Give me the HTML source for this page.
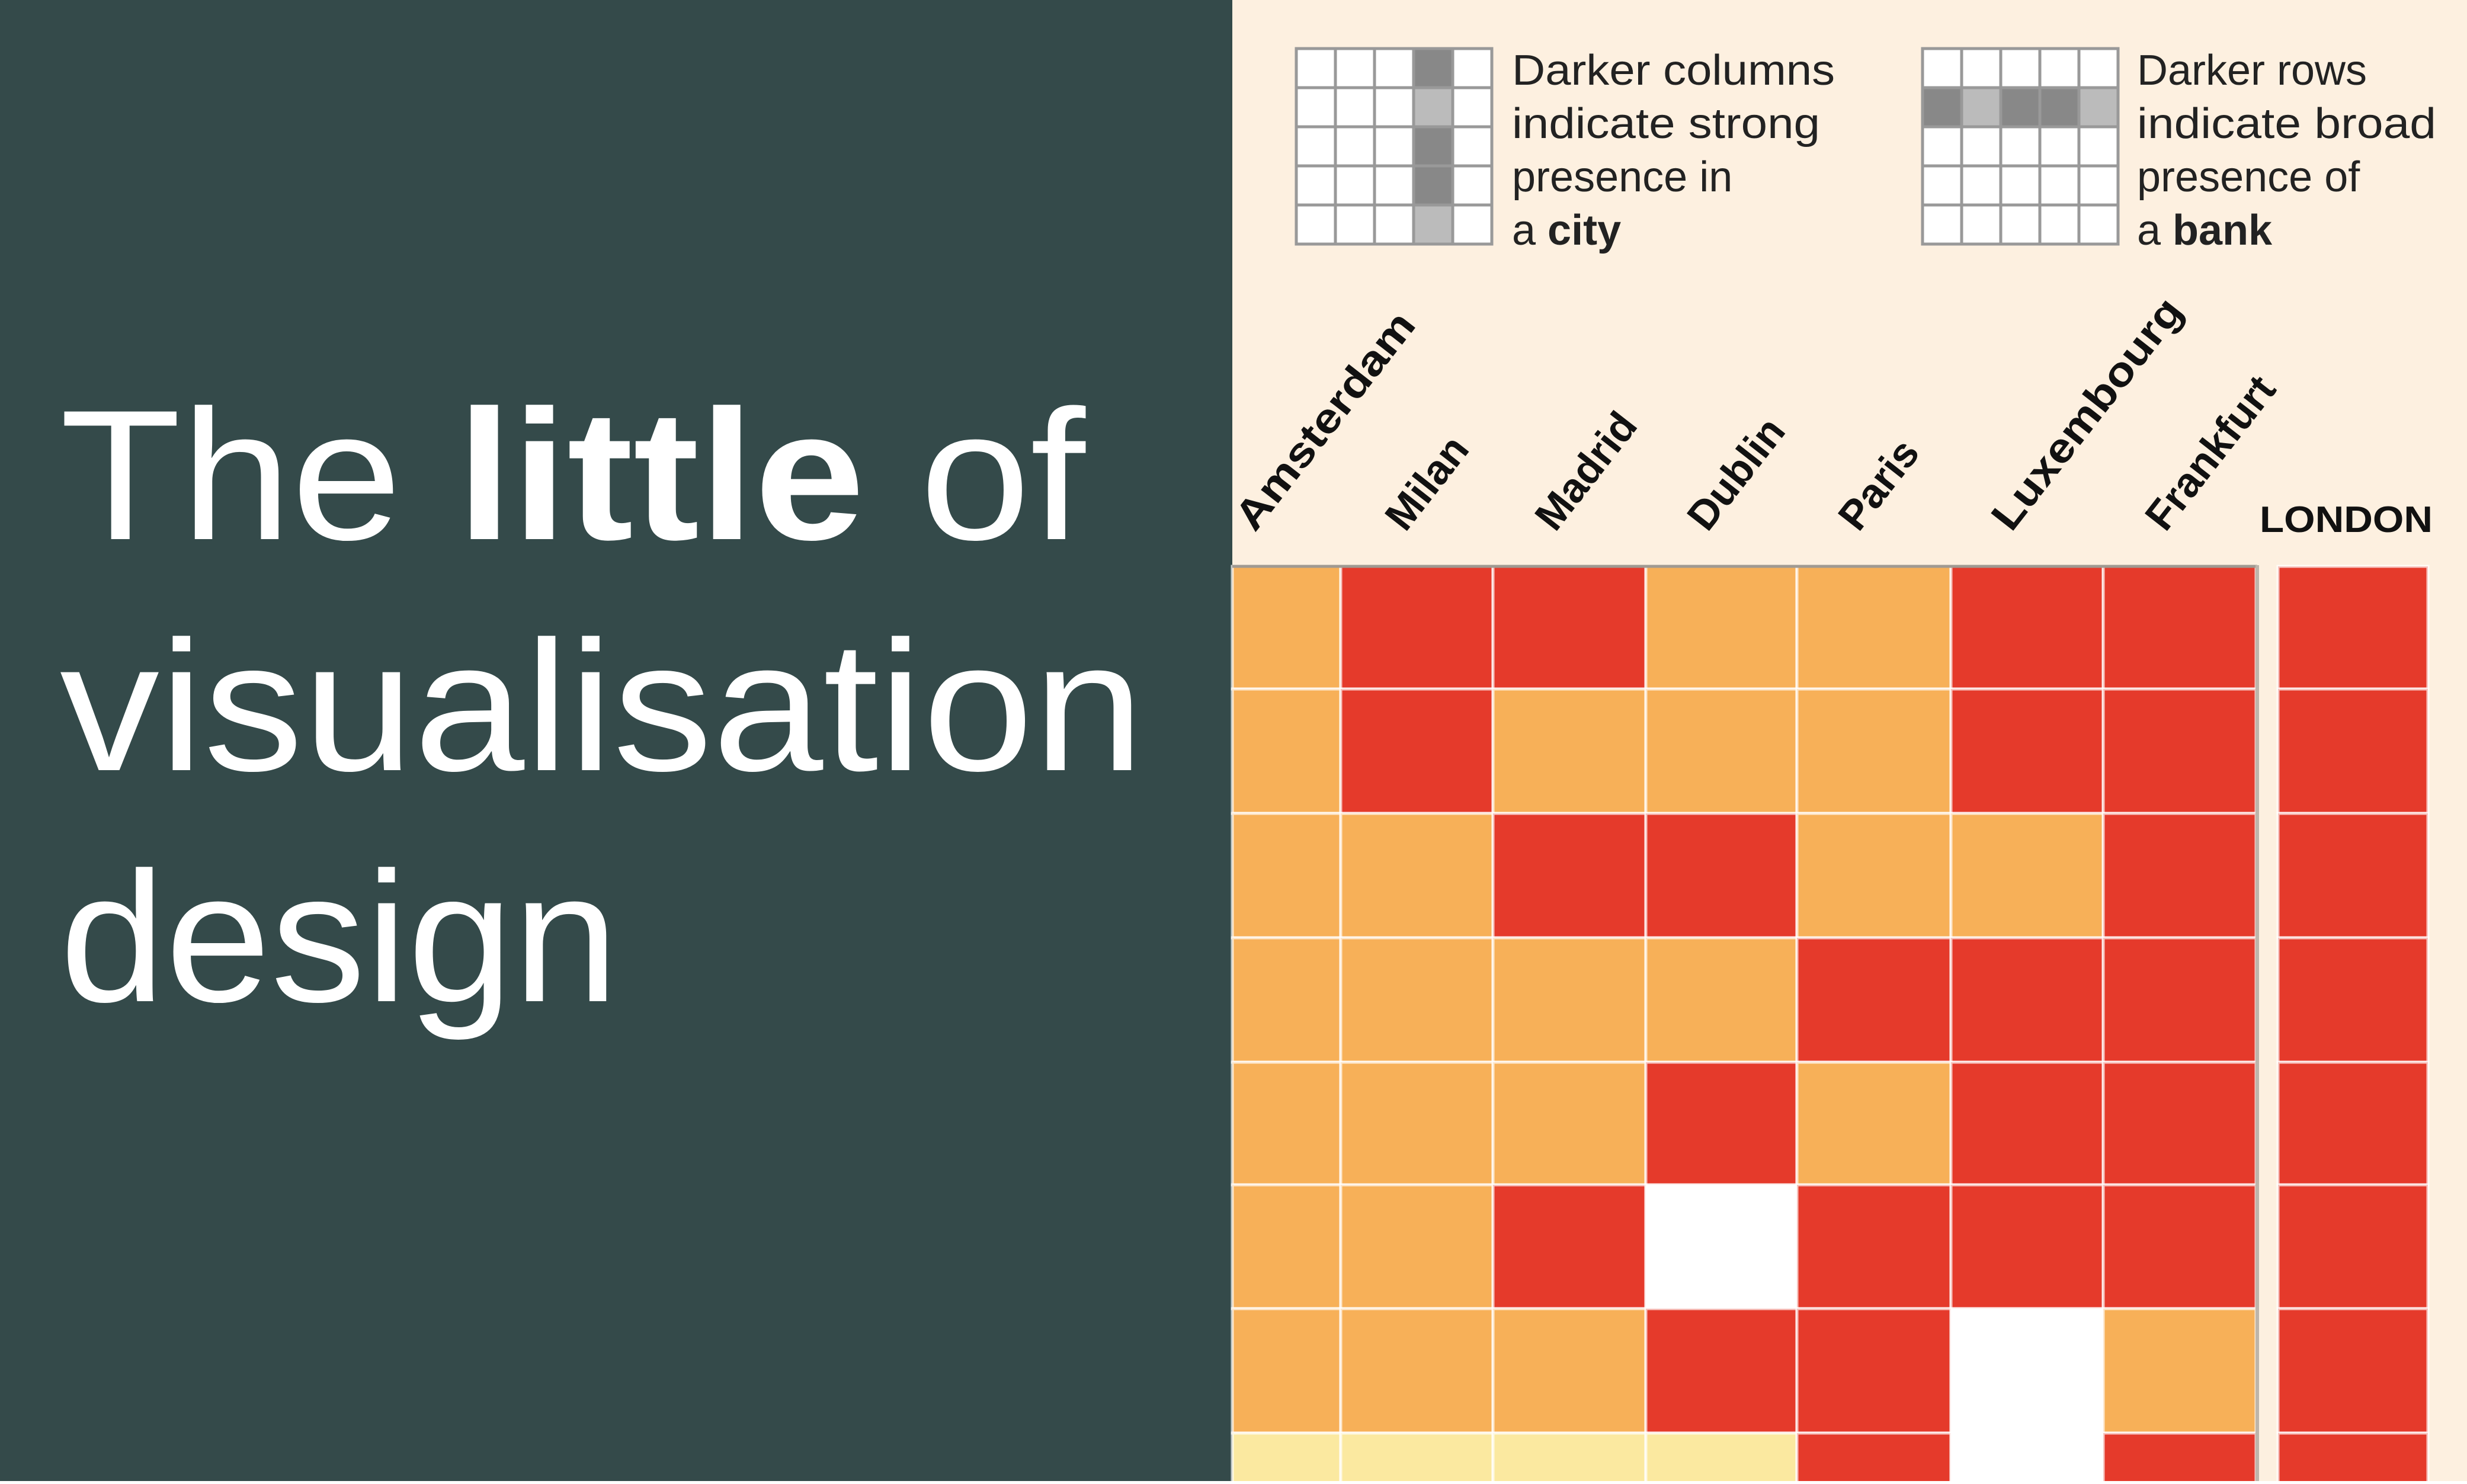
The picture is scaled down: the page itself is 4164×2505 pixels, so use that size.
<!DOCTYPE html>
<html><head><meta charset="utf-8"><style>html,body{margin:0;padding:0;}body{width:4164px;height:2500px;overflow:hidden;}</style></head><body>
<svg width="4164" height="2500" viewBox="0 0 4164 2500" xmlns="http://www.w3.org/2000/svg">
<rect x="0" y="0" width="4164" height="2500" fill="#fdf0e0"/>
<rect x="0" y="0" width="2080" height="2500" fill="#344a4a"/>
<g font-family="'Liberation Sans', sans-serif" font-size="313" fill="#ffffff">
<text x="101" y="910" textLength="1731" lengthAdjust="spacingAndGlyphs">The <tspan font-weight="bold">little</tspan> of</text>
<text x="101" y="1300" textLength="1830" lengthAdjust="spacingAndGlyphs">visualisation</text>
<text x="101" y="1690" textLength="943" lengthAdjust="spacingAndGlyphs">design</text>
</g>
<g stroke="#ffffff" stroke-opacity="0.7" stroke-width="5">
<rect x="2080" y="956" width="183" height="207" fill="#f7b058"/>
<rect x="2263" y="956" width="257" height="207" fill="#e53a2b"/>
<rect x="2520" y="956" width="258" height="207" fill="#e53a2b"/>
<rect x="2778" y="956" width="255" height="207" fill="#f7b058"/>
<rect x="3033" y="956" width="260" height="207" fill="#f7b058"/>
<rect x="3293" y="956" width="257" height="207" fill="#e53a2b"/>
<rect x="3550" y="956" width="258" height="207" fill="#e53a2b"/>
<rect x="2080" y="1163" width="183" height="210" fill="#f7b058"/>
<rect x="2263" y="1163" width="257" height="210" fill="#e53a2b"/>
<rect x="2520" y="1163" width="258" height="210" fill="#f7b058"/>
<rect x="2778" y="1163" width="255" height="210" fill="#f7b058"/>
<rect x="3033" y="1163" width="260" height="210" fill="#f7b058"/>
<rect x="3293" y="1163" width="257" height="210" fill="#e53a2b"/>
<rect x="3550" y="1163" width="258" height="210" fill="#e53a2b"/>
<rect x="2080" y="1373" width="183" height="210" fill="#f7b058"/>
<rect x="2263" y="1373" width="257" height="210" fill="#f7b058"/>
<rect x="2520" y="1373" width="258" height="210" fill="#e53a2b"/>
<rect x="2778" y="1373" width="255" height="210" fill="#e53a2b"/>
<rect x="3033" y="1373" width="260" height="210" fill="#f7b058"/>
<rect x="3293" y="1373" width="257" height="210" fill="#f7b058"/>
<rect x="3550" y="1373" width="258" height="210" fill="#e53a2b"/>
<rect x="2080" y="1583" width="183" height="210" fill="#f7b058"/>
<rect x="2263" y="1583" width="257" height="210" fill="#f7b058"/>
<rect x="2520" y="1583" width="258" height="210" fill="#f7b058"/>
<rect x="2778" y="1583" width="255" height="210" fill="#f7b058"/>
<rect x="3033" y="1583" width="260" height="210" fill="#e53a2b"/>
<rect x="3293" y="1583" width="257" height="210" fill="#e53a2b"/>
<rect x="3550" y="1583" width="258" height="210" fill="#e53a2b"/>
<rect x="2080" y="1793" width="183" height="207" fill="#f7b058"/>
<rect x="2263" y="1793" width="257" height="207" fill="#f7b058"/>
<rect x="2520" y="1793" width="258" height="207" fill="#f7b058"/>
<rect x="2778" y="1793" width="255" height="207" fill="#e53a2b"/>
<rect x="3033" y="1793" width="260" height="207" fill="#f7b058"/>
<rect x="3293" y="1793" width="257" height="207" fill="#e53a2b"/>
<rect x="3550" y="1793" width="258" height="207" fill="#e53a2b"/>
<rect x="2080" y="2000" width="183" height="209" fill="#f7b058"/>
<rect x="2263" y="2000" width="257" height="209" fill="#f7b058"/>
<rect x="2520" y="2000" width="258" height="209" fill="#e53a2b"/>
<rect x="2778" y="2000" width="255" height="209" fill="#ffffff"/>
<rect x="3033" y="2000" width="260" height="209" fill="#e53a2b"/>
<rect x="3293" y="2000" width="257" height="209" fill="#e53a2b"/>
<rect x="3550" y="2000" width="258" height="209" fill="#e53a2b"/>
<rect x="2080" y="2209" width="183" height="210" fill="#f7b058"/>
<rect x="2263" y="2209" width="257" height="210" fill="#f7b058"/>
<rect x="2520" y="2209" width="258" height="210" fill="#f7b058"/>
<rect x="2778" y="2209" width="255" height="210" fill="#e53a2b"/>
<rect x="3033" y="2209" width="260" height="210" fill="#e53a2b"/>
<rect x="3293" y="2209" width="257" height="210" fill="#ffffff"/>
<rect x="3550" y="2209" width="258" height="210" fill="#f7b058"/>
<rect x="2080" y="2419" width="183" height="90" fill="#fbe9a0"/>
<rect x="2263" y="2419" width="257" height="90" fill="#fbe9a0"/>
<rect x="2520" y="2419" width="258" height="90" fill="#fbe9a0"/>
<rect x="2778" y="2419" width="255" height="90" fill="#fbe9a0"/>
<rect x="3033" y="2419" width="260" height="90" fill="#e53a2b"/>
<rect x="3293" y="2419" width="257" height="90" fill="#ffffff"/>
<rect x="3550" y="2419" width="258" height="90" fill="#e53a2b"/>
<rect x="3845" y="956" width="253" height="207" fill="#e53a2b"/>
<rect x="3845" y="1163" width="253" height="210" fill="#e53a2b"/>
<rect x="3845" y="1373" width="253" height="210" fill="#e53a2b"/>
<rect x="3845" y="1583" width="253" height="210" fill="#e53a2b"/>
<rect x="3845" y="1793" width="253" height="207" fill="#e53a2b"/>
<rect x="3845" y="2000" width="253" height="209" fill="#e53a2b"/>
<rect x="3845" y="2209" width="253" height="210" fill="#e53a2b"/>
<rect x="3845" y="2419" width="253" height="90" fill="#e53a2b"/>
</g>
<line x1="2080" y1="956" x2="3810" y2="956" stroke="#a09a92" stroke-width="5"/>
<line x1="3810" y1="954" x2="3810" y2="2500" stroke="#bdb5ab" stroke-width="6"/>
<g stroke="#999" stroke-width="5">
<g fill="#fff">
<rect x="2188" y="82" width="66" height="66"/><rect x="2254" y="82" width="66" height="66"/><rect x="2320" y="82" width="66" height="66"/><rect x="2386" y="82" width="66" height="66" fill="#888"/><rect x="2452" y="82" width="66" height="66"/>
<rect x="2188" y="148" width="66" height="66"/><rect x="2254" y="148" width="66" height="66"/><rect x="2320" y="148" width="66" height="66"/><rect x="2386" y="148" width="66" height="66" fill="#bbb"/><rect x="2452" y="148" width="66" height="66"/>
<rect x="2188" y="214" width="66" height="66"/><rect x="2254" y="214" width="66" height="66"/><rect x="2320" y="214" width="66" height="66"/><rect x="2386" y="214" width="66" height="66" fill="#888"/><rect x="2452" y="214" width="66" height="66"/>
<rect x="2188" y="280" width="66" height="66"/><rect x="2254" y="280" width="66" height="66"/><rect x="2320" y="280" width="66" height="66"/><rect x="2386" y="280" width="66" height="66" fill="#888"/><rect x="2452" y="280" width="66" height="66"/>
<rect x="2188" y="346" width="66" height="66"/><rect x="2254" y="346" width="66" height="66"/><rect x="2320" y="346" width="66" height="66"/><rect x="2386" y="346" width="66" height="66" fill="#bbb"/><rect x="2452" y="346" width="66" height="66"/>
</g>
<g fill="#fff">
<rect x="3245" y="82" width="66" height="66"/><rect x="3311" y="82" width="66" height="66"/><rect x="3377" y="82" width="66" height="66"/><rect x="3443" y="82" width="66" height="66"/><rect x="3509" y="82" width="66" height="66"/>
<rect x="3245" y="148" width="66" height="66" fill="#888"/><rect x="3311" y="148" width="66" height="66" fill="#bbb"/><rect x="3377" y="148" width="66" height="66" fill="#888"/><rect x="3443" y="148" width="66" height="66" fill="#888"/><rect x="3509" y="148" width="66" height="66" fill="#bbb"/>
<rect x="3245" y="214" width="66" height="66"/><rect x="3311" y="214" width="66" height="66"/><rect x="3377" y="214" width="66" height="66"/><rect x="3443" y="214" width="66" height="66"/><rect x="3509" y="214" width="66" height="66"/>
<rect x="3245" y="280" width="66" height="66"/><rect x="3311" y="280" width="66" height="66"/><rect x="3377" y="280" width="66" height="66"/><rect x="3443" y="280" width="66" height="66"/><rect x="3509" y="280" width="66" height="66"/>
<rect x="3245" y="346" width="66" height="66"/><rect x="3311" y="346" width="66" height="66"/><rect x="3377" y="346" width="66" height="66"/><rect x="3443" y="346" width="66" height="66"/><rect x="3509" y="346" width="66" height="66"/>
</g>
</g>
<g font-family="'Liberation Sans', sans-serif" font-size="72" fill="#222">
<text x="2552" y="143" textLength="545" lengthAdjust="spacingAndGlyphs">Darker columns</text>
<text x="2552" y="233" textLength="520" lengthAdjust="spacingAndGlyphs">indicate strong</text>
<text x="2552" y="323">presence in</text>
<text x="2552" y="413">a <tspan font-weight="bold">city</tspan></text>
<text x="3607" y="143">Darker rows</text>
<text x="3607" y="233" textLength="505" lengthAdjust="spacingAndGlyphs">indicate broad</text>
<text x="3607" y="323">presence of</text>
<text x="3607" y="413">a <tspan font-weight="bold">bank</tspan></text>
</g>
<g font-family="'Liberation Sans', sans-serif" font-size="70" font-weight="bold" fill="#111">
<text transform="translate(2118,900) rotate(-52)" textLength="445" lengthAdjust="spacingAndGlyphs">Amsterdam</text>
<text transform="translate(2372,900) rotate(-52)">Milan</text>
<text transform="translate(2625,900) rotate(-52)">Madrid</text>
<text transform="translate(2882,900) rotate(-52)">Dublin</text>
<text transform="translate(3137,900) rotate(-52)">Paris</text>
<text transform="translate(3395,900) rotate(-52)" textLength="475" lengthAdjust="spacingAndGlyphs">Luxembourg</text>
<text transform="translate(3655,900) rotate(-52)">Frankfurt</text>
<text x="3814" y="898" font-size="62" textLength="292" lengthAdjust="spacingAndGlyphs">LONDON</text>
</g>
</svg>
</body></html>
